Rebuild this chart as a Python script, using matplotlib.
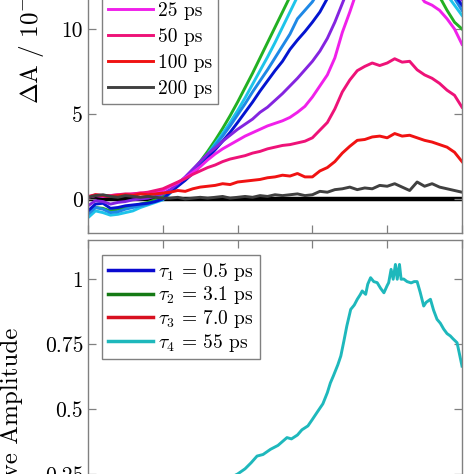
import numpy as np
import matplotlib
matplotlib.use('Agg')
import matplotlib.pyplot as plt

plt.rcParams['font.family'] = 'serif'
plt.rcParams['font.serif'] = ['cmr10']
plt.rcParams['mathtext.fontset'] = 'cm'
plt.rcParams['axes.formatter.use_mathtext'] = True

# ---------------- data ----------------
wavelength = np.arange(450, 701, 5)

delay_labels = ['1 ps', '2 ps', '5 ps', '10 ps', '15 ps', '25 ps', '50 ps', '100 ps', '200 ps']
delay_colors = ['#22b022', '#1ec4ea', '#1e88e6', '#0414d0', '#8424e0',
                '#f020ea', '#ee1278', '#f01212', '#404040']

dA_1ps = [-0.85, -0.5, -0.55, -0.7, -0.6, -0.5, -0.45, -0.3, -0.2, -0.05, 0.15, 0.5, 0.8, 1.15, 1.65,
          2.2, 2.8, 3.45, 4.15, 4.9, 5.7, 6.55, 7.4, 8.3, 9.2, 10.1, 11.0, 11.9, 12.7, 13.5, 14.3,
          15.0, 15.8, 16.5, 17.0, 17.3, 17.5, 17.4, 17.2, 16.8, 16.4, 16.0, 15.4, 14.8, 14.0, 13.3,
          12.6, 11.9, 11.1, 10.4, 10.0]
dA_2ps = [-1.1, -0.7, -0.8, -0.95, -0.9, -0.8, -0.7, -0.5, -0.35, -0.2, -0.05, 0.35, 0.8, 1.2, 1.6,
          2.15, 2.65, 3.25, 3.85, 4.5, 5.2, 5.95, 6.75, 7.55, 8.35, 9.2, 10.1, 11.0, 11.9, 12.7, 13.5,
          14.3, 15.1, 15.9, 16.6, 17.2, 17.6, 17.8, 17.8, 17.6, 17.3, 17.0, 16.4, 15.7, 15.0, 14.2,
          13.5, 12.8, 12.0, 11.4, 10.8]
dA_5ps = [-0.9, -0.5, -0.6, -0.8, -0.75, -0.6, -0.5, -0.4, -0.3, -0.15, 0.0, 0.4, 0.85, 1.25, 1.65,
          2.15, 2.6, 3.15, 3.7, 4.3, 4.95, 5.6, 6.3, 6.95, 7.6, 8.3, 9.0, 9.7, 10.6, 11.1, 11.6,
          12.3, 13.0, 13.8, 14.6, 15.4, 16.0, 16.4, 16.6, 16.6, 16.5, 16.3, 16.0, 15.5, 14.9, 14.2,
          13.6, 13.0, 12.4, 11.8, 11.1]
dA_10ps = [-0.7, -0.3, -0.25, -0.55, -0.5, -0.4, -0.35, -0.3, -0.25, -0.15, 0.0, 0.4, 0.75, 1.1, 1.5,
           1.95, 2.4, 2.9, 3.4, 3.92, 4.5, 5.1, 5.7, 6.35, 6.95, 7.55, 8.1, 8.8, 9.35, 9.85, 10.4,
           11.0, 11.8, 12.6, 13.6, 14.5, 15.3, 15.8, 16.0, 16.1, 16.2, 16.3, 16.0, 15.6, 15.0, 14.4,
           13.8, 13.2, 12.6, 12.0, 11.4]
dA_15ps = [-0.4, -0.1, -0.15, -0.3, -0.2, -0.15, -0.05, 0.0, 0.05, 0.15, 0.3, 0.55, 0.9, 1.3, 1.75,
           2.2, 2.65, 3.0, 3.4, 3.75, 4.1, 4.4, 4.7, 5.1, 5.4, 5.8, 6.2, 6.65, 7.1, 7.6, 8.1,
           8.7, 9.45, 10.4, 11.5, 12.6, 13.6, 14.3, 14.8, 15.0, 15.1, 15.3, 15.0, 14.6, 14.1, 13.6,
           13.1, 12.7, 12.3, 12.0, 11.7]
dA_25ps = [0.1, 0.2, 0.15, 0.2, 0.25, 0.2, 0.3, 0.35, 0.3, 0.4, 0.5, 0.75, 0.95, 1.25, 1.55,
           1.9, 2.3, 2.65, 2.95, 3.2, 3.45, 3.7, 3.9, 4.1, 4.3, 4.45, 4.6, 4.8, 5.1, 5.45, 6.0,
           6.65, 7.3, 8.3, 9.8, 11.0, 12.3, 13.0, 13.4, 13.5, 13.7, 14.0, 13.6, 12.9, 12.2, 11.6,
           11.4, 11.1, 10.6, 10.0, 9.1]
dA_50ps = [0.15, 0.25, 0.2, 0.2, 0.25, 0.3, 0.3, 0.35, 0.4, 0.5, 0.6, 0.8, 1.0, 1.2, 1.45,
           1.65, 1.85, 2.0, 2.2, 2.35, 2.45, 2.55, 2.7, 2.8, 2.95, 3.05, 3.15, 3.2, 3.3, 3.4, 3.6,
           4.05, 4.5, 5.3, 6.3, 7.0, 7.55, 7.8, 8.0, 7.85, 8.0, 8.25, 8.05, 8.1, 7.6, 7.3,
           7.1, 6.8, 6.4, 6.1, 5.4]
dA_100ps = [0.1, 0.25, 0.2, 0.15, 0.2, 0.25, 0.2, 0.3, 0.25, 0.3, 0.35, 0.4, 0.5, 0.45, 0.6,
            0.7, 0.75, 0.8, 0.9, 0.85, 1.0, 1.05, 1.1, 1.15, 1.25, 1.3, 1.4, 1.35, 1.5, 1.3, 1.3,
            1.65, 1.85, 2.2, 2.7, 3.1, 3.45, 3.5, 3.65, 3.7, 3.6, 3.85, 3.7, 3.75, 3.6, 3.45,
            3.35, 3.2, 3.05, 2.75, 2.2]
dA_200ps = [0.1, 0.2, 0.25, 0.15, 0.1, 0.2, 0.15, 0.1, 0.15, 0.1, 0.05, 0.05, 0.1, 0.0, 0.05,
            0.1, 0.05, 0.1, 0.15, 0.05, 0.1, 0.15, 0.1, 0.2, 0.15, 0.25, 0.2, 0.25, 0.3, 0.2, 0.25,
            0.45, 0.4, 0.55, 0.6, 0.7, 0.55, 0.65, 0.6, 0.8, 0.75, 0.9, 0.7, 0.5, 1.0, 0.75,
            0.9, 0.7, 0.6, 0.5, 0.4]
delay_series = [dA_1ps, dA_2ps, dA_5ps, dA_10ps, dA_15ps, dA_25ps, dA_50ps, dA_100ps, dA_200ps]

# relative amplitudes (decay associated)
amp_wl = np.arange(450, 701, 25)
tau_labels = [r'$\tau_1$ = 0.5 ps', r'$\tau_2$ = 3.1 ps', r'$\tau_3$ = 7.0 ps', r'$\tau_4$ = 55 ps']
tau_colors = ['#0a0ad0', '#157a15', '#d81020', '#1eb8bc']
amp_tau1 = [-0.2, -0.1, 0.0, 0.05, 0.1, 0.1, 0.08, 0.05, 0.05, 0.03, 0.0]
amp_tau2 = [-0.15, -0.1, -0.05, 0.05, 0.1, 0.12, 0.1, 0.08, 0.06, 0.04, 0.02]
amp_tau3 = [-0.05, 0.0, 0.02, 0.05, 0.08, 0.1, 0.1, 0.08, 0.06, 0.05, 0.04]

tau4_wl = [450, 460, 470, 480, 490, 500, 510, 520, 530, 540, 545, 550, 555, 559, 563, 567, 572,
           577, 580, 583, 586, 590, 593, 597, 600, 603, 607, 610, 612, 614, 617, 619, 621, 623,
           625.6, 628, 630, 632, 633.3, 635.6, 637, 638.9, 641, 643.3, 645.5, 647.8, 650, 651,
           652.6, 654, 655.5, 656.7, 658.2, 659.3, 661, 663.3, 666, 668, 670, 672, 674.4, 676,
           678.9, 681, 683.3, 685.5, 687.8, 690, 692.2, 694, 696.7, 698, 700]
amp_tau4 = [0.05, 0.08, 0.1, 0.12, 0.13, 0.15, 0.17, 0.19, 0.2, 0.22, 0.235, 0.25, 0.27, 0.293,
            0.319, 0.325, 0.345, 0.36, 0.375, 0.39, 0.385, 0.40, 0.42, 0.435, 0.46, 0.486, 0.52,
            0.563, 0.6, 0.627, 0.67, 0.704, 0.76, 0.819, 0.883, 0.9, 0.922, 0.94, 0.954, 0.941,
            0.98, 1.005, 0.99, 0.986, 0.965, 0.947, 0.975, 0.986, 1.037, 0.999, 1.056, 0.999,
            1.056, 0.999, 1.0, 0.99, 0.985, 0.99, 0.99, 0.95, 0.896, 0.91, 0.922, 0.88, 0.845,
            0.83, 0.807, 0.79, 0.781, 0.77, 0.755, 0.72, 0.665]

# ---------------- figure ----------------
W = 474.0
fig = plt.figure(figsize=(4.74, 4.74), dpi=100)
ax1 = fig.add_axes([88 / W, 1 - 233 / W, 374 / W, 374 / W])
ax2 = fig.add_axes([88 / W, 1 - 630 / W, 374 / W, 390 / W])

spine_col = '#808080'
for ax in (ax1, ax2):
    for s in ax.spines.values():
        s.set_color(spine_col)
        s.set_linewidth(1.0)
    ax.tick_params(direction='in', length=6, width=0.9, color=spine_col,
                   top=True, right=True, labelsize=15.5, labelcolor='black')
    ax.set_xlim(450, 700)
    ax.set_xticks(np.arange(450, 701, 50))
    ax.tick_params(labelbottom=False)

# top panel
ax1.plot(wavelength, np.zeros_like(wavelength, dtype=float), color='black', lw=3.2,
         zorder=1, label='_nolegend_')
for vals, col, lab in zip(delay_series, delay_colors, delay_labels):
    ax1.plot(wavelength, vals, color=col, lw=2.1, label=lab, zorder=2)
ax1.set_ylim(-2, 20)
ax1.set_yticks([0, 5, 10, 15, 20])
ax1.set_yticklabels(['0', '5', '10', '15', '20'])
ax1.set_ylabel(r'$\Delta\mathrm{A}\ /\ 10^{-3}$', fontsize=18)
ax1.yaxis.set_label_coords((47 - 88) / 374, 0.5)
leg1 = ax1.legend(loc='lower left', bbox_to_anchor=(102 / W, 1 - 104 / W),
                  bbox_transform=fig.transFigure, borderaxespad=0, fontsize=14,
                  fancybox=False, framealpha=1, edgecolor=spine_col,
                  handlelength=2.3, handletextpad=0.3, labelspacing=0.42, borderpad=0.3)
leg1.get_frame().set_linewidth(1.0)

# bottom panel
for vals, col, lab in zip([amp_tau1, amp_tau2, amp_tau3], tau_colors[:3], tau_labels[:3]):
    ax2.plot(amp_wl, vals, color=col, lw=2.1, label=lab)
ax2.plot(tau4_wl, amp_tau4, color=tau_colors[3], lw=2.1, label=tau_labels[3])
ax2.set_ylim(-0.35, 1.15)
ax2.set_yticks([-0.25, 0, 0.25, 0.5, 0.75, 1])
ax2.set_yticklabels(['-0.25', '0', '0.25', '0.5', '0.75', '1'])
ax2.set_ylabel('Relative Amplitude', fontsize=18)
ax2.yaxis.set_label_coords((23 - 88) / 374, 0.5)
leg2 = ax2.legend(loc='upper left', bbox_to_anchor=(102 / W, 1 - 255 / W),
                  bbox_transform=fig.transFigure, borderaxespad=0, fontsize=14,
                  fancybox=False, framealpha=1, edgecolor=spine_col,
                  handlelength=2.3, handletextpad=0.3, labelspacing=0.08, borderpad=0.3)
leg2.get_frame().set_linewidth(1.0)
for h in leg2.get_lines():
    h.set_linewidth(2.5)

fig.savefig('out.png', dpi=100)
